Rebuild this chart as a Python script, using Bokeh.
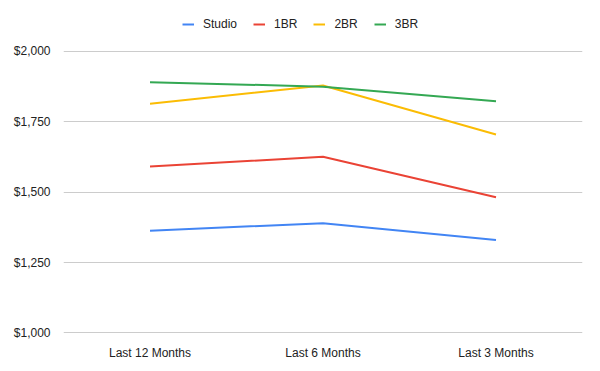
from bokeh.plotting import figure
from bokeh.models import Legend, LegendItem, NumeralTickFormatter, FactorRange, Range1d
from bokeh.embed import file_html
from bokeh.resources import INLINE

periods = ["Last 12 Months", "Last 6 Months", "Last 3 Months"]
studio = [1363, 1390, 1330]
one_br = [1591, 1626, 1482]
two_br = [1814, 1879, 1705]
three_br = [1891, 1875, 1823]
series_names = ["Studio", "1BR", "2BR", "3BR"]
colors = ["#4285F4", "#EA4335", "#FBBC04", "#34A853"]
y_ticks = [1000, 1250, 1500, 1750, 2000]

# frame reaches the top edge so the legend can sit inside it, above the $2,000 line
p = figure(width=600, height=371, x_range=FactorRange(*periods, range_padding=0),
           y_range=Range1d(998, 2181), output_backend="svg", toolbar_location=None,
           min_border_left=63, min_border_right=18, min_border_top=0, min_border_bottom=38)
p.outline_line_color = None
p.background_fill_color = "white"
p.border_fill_color = "white"

items = []
for name, vals, c in zip(series_names, [studio, one_br, two_br, three_br], colors):
    r = p.line(periods, vals, line_color=c, line_width=2)
    items.append(LegendItem(label=name, renderers=[r]))

font = "Liberation Sans"
for ax in (p.xaxis, p.yaxis):
    ax.axis_line_color = None
    ax.major_tick_line_color = None
    ax.minor_tick_line_color = None
    ax.major_label_text_font = font
    ax.major_label_text_font_size = "12px"
    ax.major_label_text_color = "#222222"
p.yaxis.major_label_standoff = 7
p.xaxis.major_label_standoff = 6
p.yaxis.ticker = y_ticks
p.yaxis.formatter = NumeralTickFormatter(format="$0,0")
p.xgrid.grid_line_color = None
p.ygrid.grid_line_color = "#cccccc"
p.ygrid.grid_line_width = 1

legend = Legend(items=items, orientation="horizontal", location=(119, 302),
                label_text_font=font, label_text_font_size="12px", label_text_color="#222222",
                glyph_width=12, glyph_height=12, label_standoff=9, spacing=16,
                border_line_color=None, background_fill_alpha=0, padding=0, margin=0)
p.add_layout(legend, "center")

open("out.html", "w").write(file_html(p, INLINE))
